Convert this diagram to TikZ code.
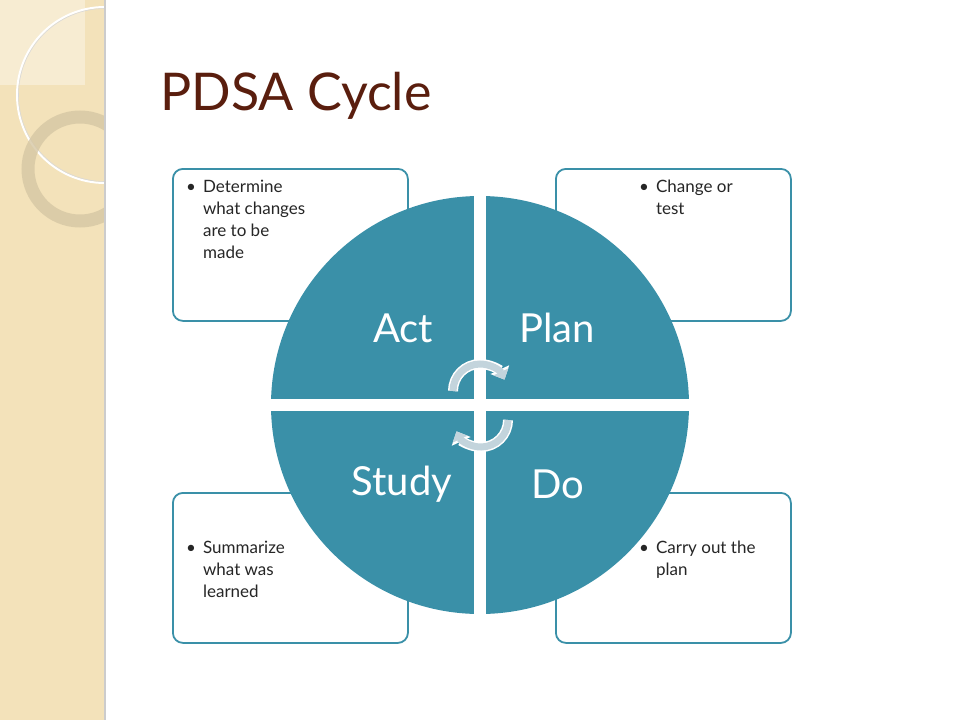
\documentclass[tikz,border=0pt]{standalone}
\usepackage{fontspec}
\setmainfont{Lato}
\usetikzlibrary{arrows.meta}
\definecolor{teal1}{HTML}{3A90A8}
\definecolor{beige}{HTML}{F3E2BA}
\definecolor{brownt}{HTML}{5A1E0E}
\definecolor{arc}{HTML}{C3D4DC}
\tikzset{
 box/.style={draw=teal1,line width=1.8pt,rounded corners=10pt,fill=white},
 btxt/.style={anchor=north west,align=left,font=\fontsize{17}{22}\selectfont,text=black!85,inner sep=0pt},
 qlab/.style={text=white,font=\fontsize{40}{40}\selectfont},
 cycout/.style={draw=white,line width=10pt,-{Triangle[width=20pt,length=11pt]}},
 cycin/.style={draw=arc,line width=7pt,-{Triangle[width=16pt,length=8.5pt]}}
}
\begin{document}
\begin{tikzpicture}[x=1pt,y=-1pt]
\useasboundingbox (0,0) rectangle (960,720);
\fill[white] (0,0) rectangle (960,720);
\begin{scope}
\clip (0,0) rectangle (105,720);
\fill[beige] (0,0) rectangle (105,720);
\fill[white,opacity=0.35] (0,0) rectangle (85,85);
\draw[white,line width=2pt] (105,95) circle (88);
\draw[black!15,line width=0.6pt] (105,95) circle (86.5);
\draw[black!12!beige,line width=13pt,opacity=0.8] (80,169) circle (52);
\end{scope}
\draw[black!20,line width=1.5pt] (105,0) -- (105,720);
\node[anchor=base west,text=brownt,font=\fontsize{52}{52}\selectfont,inner sep=0pt] (title) at (160,110) {PDSA Cycle};
\node[box,minimum width=235,minimum height=152,anchor=north west] (tl) at (172,168) {};
\node[box,minimum width=235,minimum height=152,anchor=north west] (tr) at (555,168) {};
\node[box,minimum width=235,minimum height=150,anchor=north west] (bl) at (172,492) {};
\node[box,minimum width=235,minimum height=150,anchor=north west] (br) at (555,492) {};
\node[btxt] (tlt) at (186,180) {\textbullet\hspace{7pt}\parbox[t]{140pt}{\raggedright Determine\\what changes\\are to be\\made}};
\node[btxt] (trt) at (639,180) {\textbullet\hspace{7pt}\parbox[t]{140pt}{\raggedright Change or\\test}};
\node[btxt] (blt) at (186,541) {\textbullet\hspace{7pt}\parbox[t]{140pt}{\raggedright Summarize\\what was\\learned}};
\node[btxt] (brt) at (639,541) {\textbullet\hspace{7pt}\parbox[t]{140pt}{\raggedright Carry out the\\plan}};
\coordinate (c) at (480,405);
\fill[teal1] (c) circle (209);
\draw[white,line width=12pt] (480,190) -- (480,620);
\draw[white,line width=12pt] (265,405) -- (695,405);
\node[qlab] (act) at (403,328) {Act};
\node[qlab] (plan) at (557,328) {Plan};
\node[qlab] (study) at (402,484) {Study};
\node[qlab] (do) at (558,484) {Do};
% cycle arrows
\coordinate (u0) at (453,391);
\coordinate (l0) at (508,420);
\draw[cycout] (u0) arc[start angle=180,end angle=335,radius=27];
\draw[cycin] (u0) arc[start angle=180,end angle=335,radius=27];
\draw[cycout] (l0) arc[start angle=0,end angle=155,radius=27];
\draw[cycin] (l0) arc[start angle=0,end angle=155,radius=27];
\end{tikzpicture}
\end{document}
